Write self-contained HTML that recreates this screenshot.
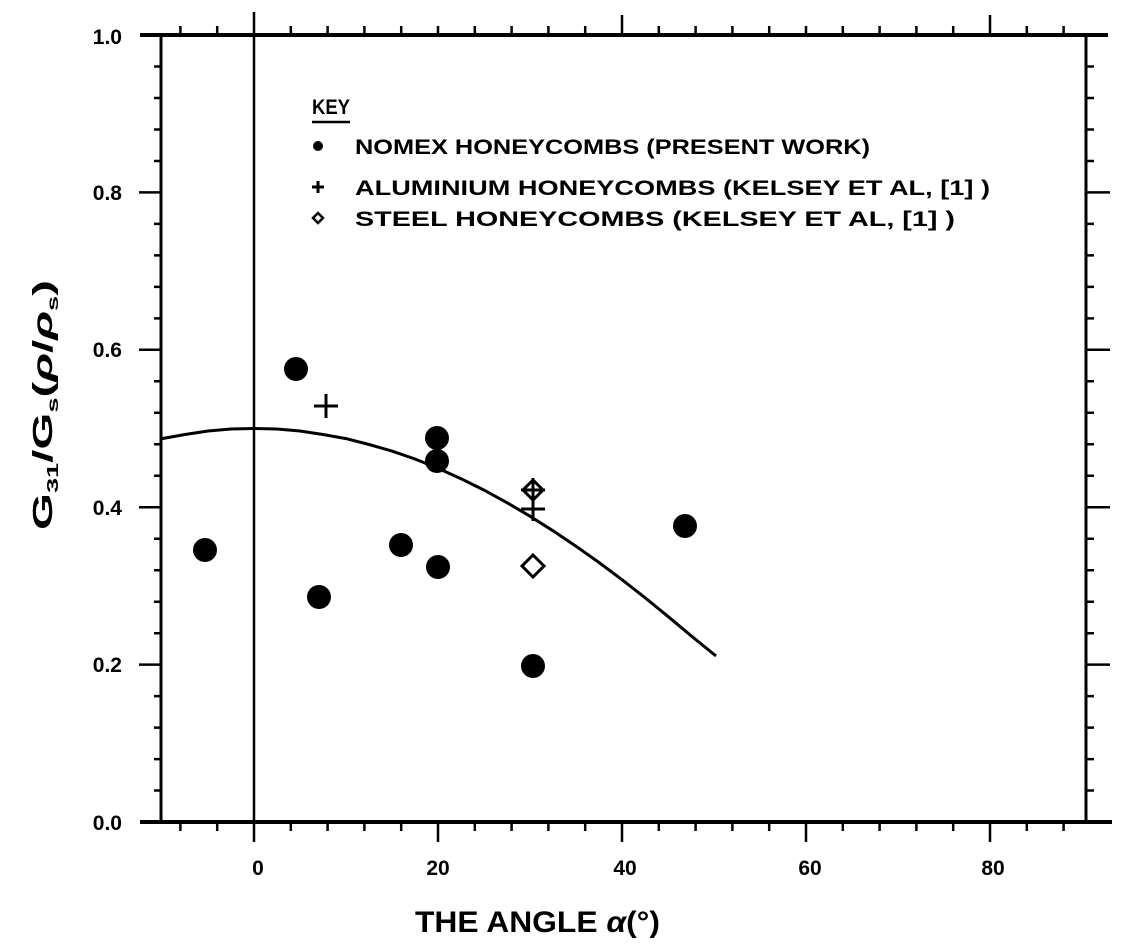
<!DOCTYPE html><html><head><style>body{margin:0;background:#fff}svg{display:block}text{font-family:"Liberation Sans",sans-serif;font-weight:bold;fill:#000}</style></head><body>
<svg width="1127" height="944" viewBox="0 0 1127 944" xmlns="http://www.w3.org/2000/svg">
<g stroke="#000" fill="none">
<path d="M140 35H1108M140 822H1112" stroke-width="4"/>
<path d="M161 35V822M1086 35V822" stroke-width="3"/>
<path d="M254 12V842" stroke-width="2.5"/>
<path stroke-width="2.5" d="M180.4 822v9M217.2 822v9M290.8 822v9M327.6 822v9M364.4 822v9M401.2 822v9M438 822v20M474.8 822v9M511.6 822v9M548.4 822v9M585.2 822v9M622 822v20M658.8 822v9M695.6 822v9M732.4 822v9M769.2 822v9M806 822v20M842.8 822v9M879.6 822v9M916.4 822v9M953.2 822v9M990 822v20M1026.8 822v9M1063.6 822v9
M180.4 35v-9M217.2 35v-9M290.8 35v-9M327.6 35v-9M364.4 35v-9M401.2 35v-9M438 35v-9M474.8 35v-9M511.6 35v-9M548.4 35v-9M585.2 35v-9M622 35v-20M658.8 35v-9M695.6 35v-9M732.4 35v-9M769.2 35v-9M806 35v-9M842.8 35v-9M879.6 35v-9M916.4 35v-9M953.2 35v-9M990 35v-20M1026.8 35v-9M1063.6 35v-9"/>
<path stroke-width="2.5" d="M161 790.5h-7M161 759.1h-7M161 727.6h-7M161 696.1h-7M161 664.6h-22M161 633.2h-7M161 601.7h-7M161 570.2h-7M161 538.7h-7M161 507.2h-22M161 475.8h-7M161 444.3h-7M161 412.8h-7M161 381.3h-7M161 349.8h-22M161 318.4h-7M161 286.9h-7M161 255.4h-7M161 223.9h-7M161 192.4h-22M161 161h-7M161 129.5h-7M161 98h-7M161 66.5h-7
M1086 790.5h8M1086 759.1h8M1086 727.6h8M1086 696.1h8M1086 664.6h24M1086 633.2h8M1086 601.7h8M1086 570.2h8M1086 538.7h8M1086 507.2h24M1086 475.8h8M1086 444.3h8M1086 412.8h8M1086 381.3h8M1086 349.8h24M1086 318.4h8M1086 286.9h8M1086 255.4h8M1086 223.9h8M1086 192.4h24M1086 161h8M1086 129.5h8M1086 98h8M1086 66.5h8"/>
<polyline stroke-width="3" points="162,438.6 185,434.5 208,431 231,429 254,428.5 277,429 300,431 323,434.5 346,438.6 369,444.5 392,451.1 415,459 438,468.3 461,478.7 484,490.1 507,502.7 530,516.2 553,530.8 576,546.2 599,562.5 622,579.7 645,597.7 668,616.4 691,635.7 716,656"/>
</g>
<g fill="#000">
<circle cx="205" cy="550" r="12"/><circle cx="296" cy="369" r="12"/><circle cx="319" cy="597" r="12"/><circle cx="401" cy="545" r="12"/><circle cx="437" cy="438" r="12"/><circle cx="437" cy="461" r="12"/><circle cx="438" cy="567" r="12"/><circle cx="533" cy="666" r="12"/><circle cx="685" cy="526" r="12"/>
<circle cx="318" cy="146" r="5"/>
</g>
<g stroke="#000" stroke-width="3" fill="none">
<path d="M314 406h24M326 394v24M521 509h24M533 497v24M521 490h24M533 478v24M312 187h12M318 181v12"/>
<path d="M533 555l11 11-11 11-11-11z"/><path d="M533 480l10 10-10 10-10-10z"/>
<path d="M318 213l5 5-5 5-5-5z" stroke-width="2.5"/>
<path d="M312 122H350" stroke-width="2.5"/>
</g>
<g font-size="21">
<text x="312" y="114" textLength="38" lengthAdjust="spacingAndGlyphs">KEY</text>
<text x="355" y="154" textLength="515" lengthAdjust="spacingAndGlyphs">NOMEX HONEYCOMBS (PRESENT WORK)</text>
<text x="355" y="195" textLength="635" lengthAdjust="spacingAndGlyphs">ALUMINIUM HONEYCOMBS (KELSEY ET AL,  [1] )</text>
<text x="355" y="226" textLength="600" lengthAdjust="spacingAndGlyphs">STEEL HONEYCOMBS (KELSEY ET AL,   [1] )</text>
</g>
<g font-size="21" text-anchor="end">
<text x="122" y="44">1.0</text><text x="122" y="200">0.8</text><text x="122" y="357">0.6</text><text x="122" y="515">0.4</text><text x="122" y="672">0.2</text><text x="122" y="830">0.0</text>
</g>
<g font-size="21" text-anchor="middle">
<text x="258" y="875">0</text><text x="438" y="875">20</text><text x="625" y="875">40</text><text x="810" y="875">60</text><text x="993" y="875">80</text>
</g>
<text x="415" y="932" font-size="30" textLength="245" lengthAdjust="spacingAndGlyphs">THE ANGLE <tspan font-style="italic">α</tspan>(°)</text>
<text transform="translate(52,530) rotate(-90)" font-size="28" textLength="250" lengthAdjust="spacingAndGlyphs">G<tspan font-size="16" dy="6">31</tspan><tspan dy="-6">/G</tspan><tspan font-size="16" dy="6">s</tspan><tspan dy="-6">(</tspan><tspan font-style="italic">ρ</tspan>/<tspan font-style="italic">ρ</tspan><tspan font-size="16" dy="6">s</tspan><tspan dy="-6">)</tspan></text>
</svg></body></html>
